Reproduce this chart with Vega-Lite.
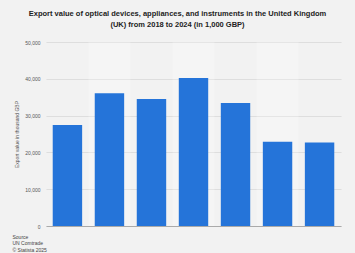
{
  "$schema": "https://vega.github.io/schema/vega-lite/v6.json",
  "autosize": "none",
  "width": 295,
  "height": 184,
  "padding": {"left": 46, "top": 42, "right": 14, "bottom": 27},
  "background": "#f2f2f2",
  "config": {
    "view": {"stroke": null},
    "font": "Liberation Sans",
    "axisY": {
      "values": [0, 10000, 20000, 30000, 40000, 50000],
      "format": ",d", "labelOverlap": false,
      "labelFontSize": 5, "labelColor": "#555555", "labelPadding": 6,
      "ticks": false, "domain": false,
      "grid": true, "gridColor": "#d6d6d6", "gridWidth": 0.7,
      "titleFontSize": 5, "titleFontWeight": "normal", "titleColor": "#555555",
      "titleX": -27, "titlePadding": 8
    }
  },
  "title": {
    "text": ["Export value of optical devices, appliances, and instruments in the United Kingdom", "(UK) from 2018 to 2024 (in 1,000 GBP)"],
    "fontSize": 7.5,
    "fontWeight": "bold",
    "color": "#222222",
    "lineHeight": 11,
    "anchor": "middle",
    "dx": -16,
    "offset": 12
  },
  "data": {"values": [
    {"year": "2018", "value": 27450, "bg": 0},
    {"year": "2019", "value": 36100, "bg": 1},
    {"year": "2020", "value": 34500, "bg": 0},
    {"year": "2021", "value": 40200, "bg": 1},
    {"year": "2022", "value": 33450, "bg": 0},
    {"year": "2023", "value": 22900, "bg": 1},
    {"year": "2024", "value": 22700, "bg": 0}
  ]},
  "encoding": {
    "x": {
      "field": "year", "type": "nominal", "sort": null,
      "scale": {"paddingInner": 0.3, "paddingOuter": 0.16},
      "axis": {
        "labels": false, "ticks": false, "domainColor": "#aaaaaa", "domainWidth": 1,
        "title": ["Source", "UN Comtrade", "© Statista 2025"],
        "titleFontSize": 5, "titleFontWeight": "normal", "titleColor": "#444444",
        "titleAnchor": "start", "titleAlign": "left", "titleBaseline": "top",
        "titleX": -34, "titleY": 8, "titleLineHeight": 6.5
      }
    }
  },
  "layer": [
    {
      "mark": {"type": "bar", "width": {"band": 1.43}, "color": "#ffffff"},
      "encoding": {
        "y": {"datum": 50000, "type": "quantitative", "scale": {"domain": [0, 50000]}, "axis": {"title": "Export value in thousand GBP"}},
        "opacity": {"field": "bg", "type": "quantitative", "scale": {"domain": [0, 1], "range": [0, 0.22]}, "legend": null}
      }
    },
    {
      "mark": {"type": "bar", "color": "#2574d9"},
      "encoding": {
        "y": {
          "field": "value", "type": "quantitative",
          "scale": {"domain": [0, 50000]},
          "axis": {"title": "Export value in thousand GBP"}
        }
      }
    }
  ]
}
